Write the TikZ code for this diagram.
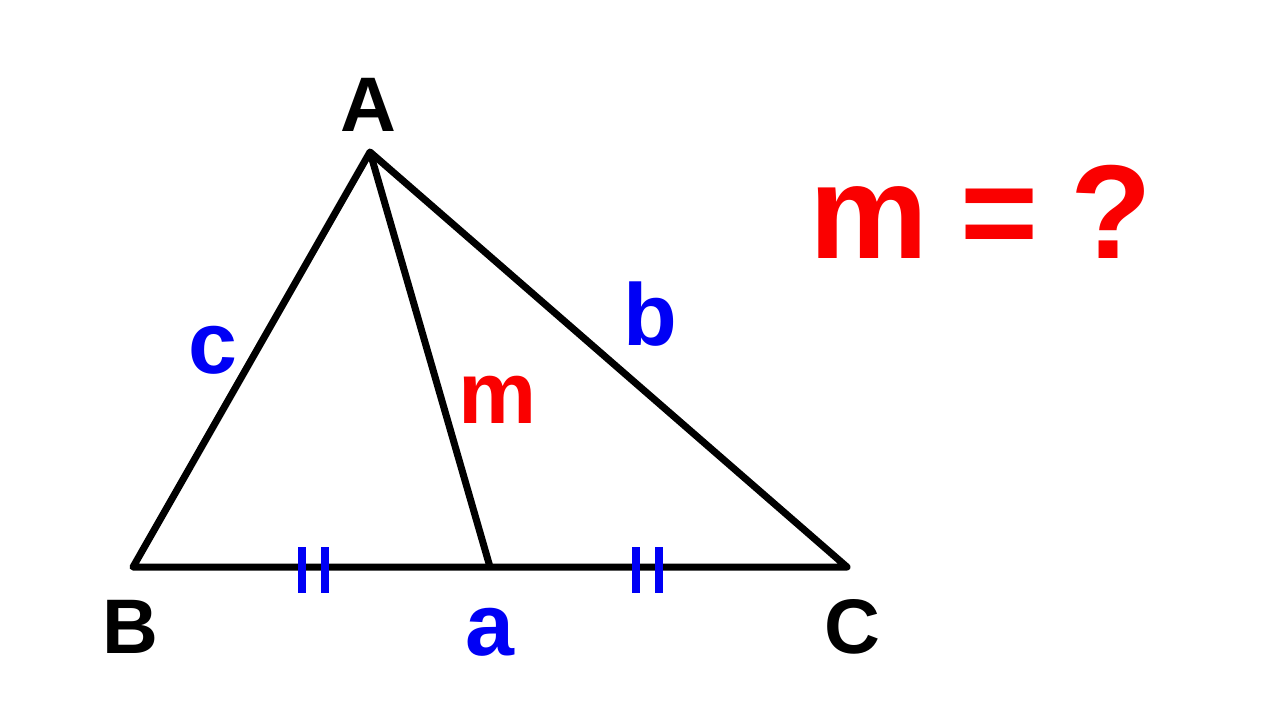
\documentclass[tikz,border=0pt]{standalone}
\usepackage{fontspec}
\setmainfont{Liberation Sans}
\usetikzlibrary{calc}
\definecolor{sideblue}{RGB}{0,0,245}
\definecolor{medred}{RGB}{250,0,0}
\tikzset{
  vertexlbl/.style={font=\fontsize{22}{22}\selectfont\bfseries, text=black, inner sep=0pt},
  sidelbl/.style={font=\fontsize{25}{25}\selectfont\bfseries, text=sideblue, inner sep=0pt},
  medlbl/.style={font=\fontsize{25}{25}\selectfont\bfseries, text=medred, inner sep=0pt},
  edge/.style={line width=2pt, draw=black},
  tick/.style={line width=2pt, draw=sideblue}
}
\begin{document}
\begin{tikzpicture}[x=0.01cm, y=-0.01cm]
			%%%%% START %%%%%
			\useasboundingbox (0, 0) rectangle (1280, 720);
			
			\coordinate (A) at (370, 152);
			\coordinate (B) at (133, 567);
			\coordinate (C) at (847, 567);
			\coordinate (M) at ($(B)!0.5!(C)$);
			
			\draw[edge, line join=round] (A) -- (B) -- (C) -- cycle;
			\draw[edge] (A) -- (M);
			
			\foreach \x in {302, 325, 636, 659}
				\draw[tick] (\x, 547) -- (\x, 593);
			
			\node[vertexlbl] (lblA) at (368, 105) {A};
			\node[vertexlbl] (lblB) at (130, 627) {B};
			\node[vertexlbl] (lblC) at (852, 627) {C};
			
			\node[sidelbl] (lbla) at (490, 632) {a};
			\node[sidelbl] (lblb) at (650, 314) {b};
			\node[sidelbl] (lblc) at (213, 350) {c};
			\node[medlbl] (lblm) at (498, 400) {m};
			
			\node[font=\fontsize{38}{38}\selectfont\bfseries, text=medred, inner sep=0pt] (ask) at (981, 212) {m\hspace{0.24em}=\hspace{0.24em}?};
			
			%%%%% END %%%%%
\end{tikzpicture}
\end{document}
